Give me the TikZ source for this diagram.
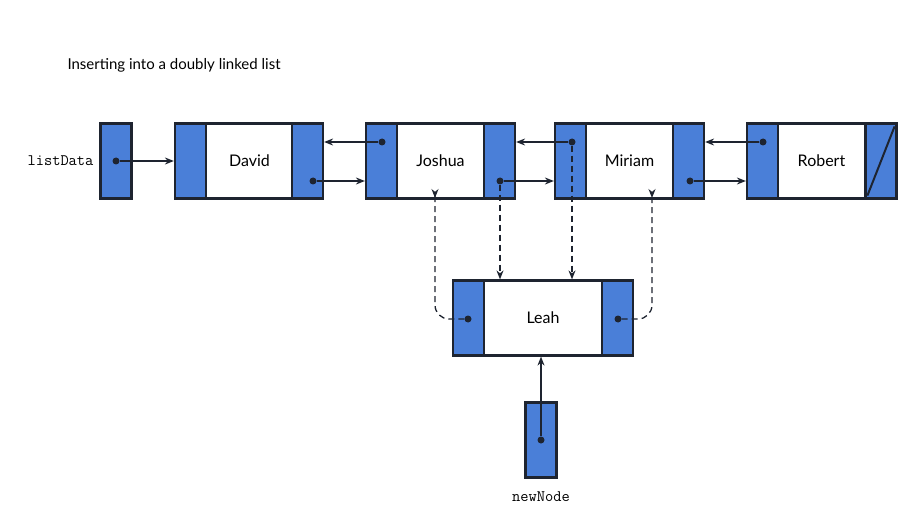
\documentclass[tikz,border=0pt]{standalone}
\usepackage{fontspec}
\setmainfont{Lato}
\usepackage{tikz}
\usetikzlibrary{arrows.meta,calc}
\definecolor{cellblue}{HTML}{4A7FD8}
\definecolor{edge}{HTML}{1E2430}
\tikzset{
  cell/.style = {draw=edge, line width=2.2pt, fill=cellblue, minimum width=31pt, minimum height=75pt, inner sep=0pt},
  data/.style = {draw=edge, line width=2.2pt, fill=white, minimum height=75pt, inner sep=0pt, font=\fontsize{16}{18}\selectfont},
  dot/.style = {circle, fill=edge, inner sep=0pt, minimum size=7pt},
  arrow/.style = {draw=edge, line width=1.3pt, -{Stealth[length=9pt,width=7pt]}},
  dasharrow/.style = {arrow, dash pattern=on 6pt off 4pt}
}
\begin{document}
\begin{tikzpicture}[x=1pt, y=-1pt]
\useasboundingbox (0,0) rectangle (908,508);
%% title
\node[anchor=west, font=\fontsize{15}{17}\selectfont] (title) at (64,65) {Inserting into a doubly linked list};

%% list nodes
\node[cell] (list) at (116,161) {};
\node[anchor=east, font=\ttfamily\fontsize{16}{18}\selectfont] (listlabel) at (97,161) {listData};

\node[data, minimum width=118pt] (david) at (249.5,161) {David};
\node[cell] (davidL) at (190.5,161) {};
\node[cell] (davidR) at (307.5,161) {};

\node[data, minimum width=118pt] (joshua) at (440.5,161) {Joshua};
\node[cell] (joshuaL) at (381.5,161) {};
\node[cell] (joshuaR) at (499.5,161) {};

\node[data, minimum width=118pt] (miriam) at (629.5,161) {Miriam};
\node[cell] (miriamL) at (570.5,161) {};
\node[cell] (miriamR) at (688.5,161) {};

\node[data, minimum width=118pt] (robert) at (821.5,161) {Robert};
\node[cell] (robertL) at (762.5,161) {};
\node[cell] (robertR) at (881,161) {};
\draw[edge, line width=2pt] ($(robertR.south west)+(3,-4)$) -- ($(robertR.north east)+(-3,4)$);

\node[data, minimum width=149pt] (leah) at (543,318) {Leah};
\node[cell] (leahL) at (468.5,318) {};
\node[cell] (leahR) at (617.5,318) {};

\node[cell] (new) at (541,440) {};
\node[font=\ttfamily\fontsize{16}{18}\selectfont] (newlabel) at (541,497) {newNode};

%% pointer dots
\node[dot] (listP) at (116,161) {};
\node[dot] (davidN) at (313,181) {};
\node[dot] (joshuaP) at (382,142) {};
\node[dot] (joshuaN) at (500,181) {};
\node[dot] (miriamP) at (572,142) {};
\node[dot] (miriamN) at (690,181) {};
\node[dot] (robertP) at (763,142) {};
\node[dot] (leahP) at (468,319) {};
\node[dot] (leahN) at (618,319) {};
\node[dot] (newP) at (541,440) {};

\coordinate (joshuaUp) at (435,198);
\coordinate (miriamUp) at (652,198);

%% links
\draw[arrow] (listP) -- (davidL.west |- listP);
\draw[arrow] (davidN) -- (joshuaL.west |- davidN);
\draw[arrow] (joshuaP) -- (davidR.east |- joshuaP);
\draw[arrow] (joshuaN) -- (miriamL.west |- joshuaN);
\draw[arrow] (miriamP) -- (joshuaR.east |- miriamP);
\draw[arrow] (miriamN) -- (robertL.west |- miriamN);
\draw[arrow] (robertP) -- (miriamR.east |- robertP);
\draw[arrow] (newP) -- (leah.south -| newP);

%% new links
\draw[dasharrow] (joshuaN) -- (leah.north -| joshuaN);
\draw[dasharrow] (miriamP) -- (leah.north -| miriamP);
\draw[dasharrow, rounded corners=14pt] (leahP) -| ($(joshuaUp)+(0,8)$) -- (joshuaUp);
\draw[dasharrow, rounded corners=14pt] (leahN) -| ($(miriamUp)+(0,8)$) -- (miriamUp);
\end{tikzpicture}
\end{document}
